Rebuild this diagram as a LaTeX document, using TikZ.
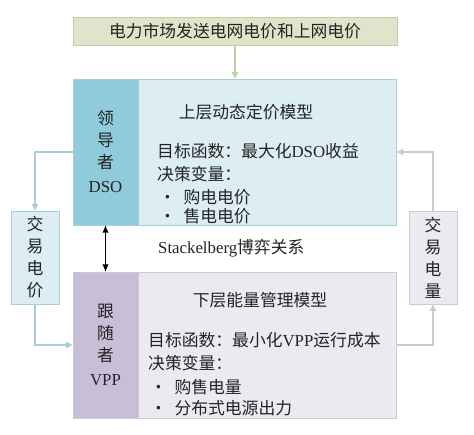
\documentclass[tikz,border=0pt]{standalone}
\usepackage{fontspec}
\setmainfont{Liberation Serif}
\newfontfamily\cjk{Noto Sans CJK SC}
\usepackage{tikz}
\usetikzlibrary{arrows.meta,positioning,calc}
\definecolor{Olive}{RGB}{222,229,202}
\definecolor{OliveLine}{RGB}{196,205,166}
\definecolor{Teal}{RGB}{143,203,218}
\definecolor{IceBlue}{RGB}{220,238,244}
\definecolor{IceLine}{RGB}{168,206,218}
\definecolor{Plum}{RGB}{200,190,216}
\definecolor{Lilac}{RGB}{236,233,241}
\definecolor{LilacLine}{RGB}{204,200,214}
\definecolor{Ink}{RGB}{35,35,35}
\tikzset{
  box/.style={draw,inner sep=0pt,align=center,text=Ink},
  txt/.style={inner sep=0pt,anchor=west,text=Ink},
  arrL/.style={-{Triangle[length=2.4mm,width=2.2mm]},line width=1.2pt,draw=IceLine},
  arrR/.style={-{Triangle[length=2.4mm,width=2.2mm]},line width=1.2pt,draw=LilacLine},
  arrT/.style={-{Triangle[length=2.4mm,width=2.2mm]},line width=1.2pt,draw=OliveLine},
  arrD/.style={{Latex[length=2.6mm,width=2.2mm]}-{Latex[length=2.6mm,width=2.2mm]},line width=0.9pt},
}
\begin{document}
\begin{tikzpicture}[x=1pt,y=-1pt,font=\cjk\fontsize{16.8}{22}\selectfont]
  \useasboundingbox (0,0) rectangle (474,434);

  % --- market input ---
  \node[box, draw=OliveLine, fill=Olive, minimum width=324pt, minimum height=28pt] (market) at (235,31) {电力市场发送电网电价和上网电价};

  % --- upper level: DSO ---
  \node[box, draw=IceLine, fill=Teal, minimum width=65pt, minimum height=146pt] (dso) at (105.5,152)
    {领\\导\\者\\[2pt]{\rmfamily DSO}};
  \node[box, draw=IceLine, fill=IceBlue, minimum width=258pt, minimum height=146pt] (upm) at (267,152) {};
  \node[inner sep=0pt, text=Ink] (uptitle) at (246,112) {上层动态定价模型};
  \node[txt] (upobj) at (157,151) {目标函数：最大化{\rmfamily DSO}收益};
  \node[txt] (upvar) at (157,174) {决策变量：};
  \node[txt] (upv1) at (159,197) {•\ \ 购电电价};
  \node[txt] (upv2) at (159,216) {•\ \ 售电电价};

  % --- lower level: VPP ---
  \node[box, draw=LilacLine, fill=Plum, minimum width=65pt, minimum height=146pt] (vpp) at (105.5,345)
    {跟\\随\\者\\[2pt]{\rmfamily VPP}};
  \node[box, draw=LilacLine, fill=Lilac, minimum width=258pt, minimum height=146pt] (lowm) at (267,345) {};
  \node[inner sep=0pt, text=Ink] (lowtitle) at (260,300) {下层能量管理模型};
  \node[txt] (lowobj) at (148,340) {目标函数：最小化{\rmfamily VPP}运行成本};
  \node[txt] (lowvar) at (148,363) {决策变量：};
  \node[txt] (lowv1) at (150,387) {•\ \ 购售电量};
  \node[txt] (lowv2) at (150,408) {•\ \ 分布式电源出力};

  % --- exchange boxes ---
  \node[box, draw=IceLine, fill=IceBlue, minimum width=48pt, minimum height=93pt] (price) at (35,257.5) {交\\易\\电\\价};
  \node[box, draw=LilacLine, fill=Lilac, minimum width=48pt, minimum height=93pt] (qty) at (433,257.5) {交\\易\\电\\量};

  % game relation
  \node[inner sep=0pt, text=Ink, anchor=west] (game) at (158,248) {{\rmfamily Stackelberg}博弈关系};

  % connectors
  \draw[arrT] (market.south) -- (market.south |- upm.north);
  \draw[arrD] (dso.south) -- (vpp.north);
  \draw[arrL] (dso.west) -| (price.north);
  \draw[arrL] (price.south) |- (vpp.west);
  \draw[arrR] (lowm.east) -| (qty.south);
  \draw[arrR] (qty.north) |- (upm.east);
\end{tikzpicture}
\end{document}
